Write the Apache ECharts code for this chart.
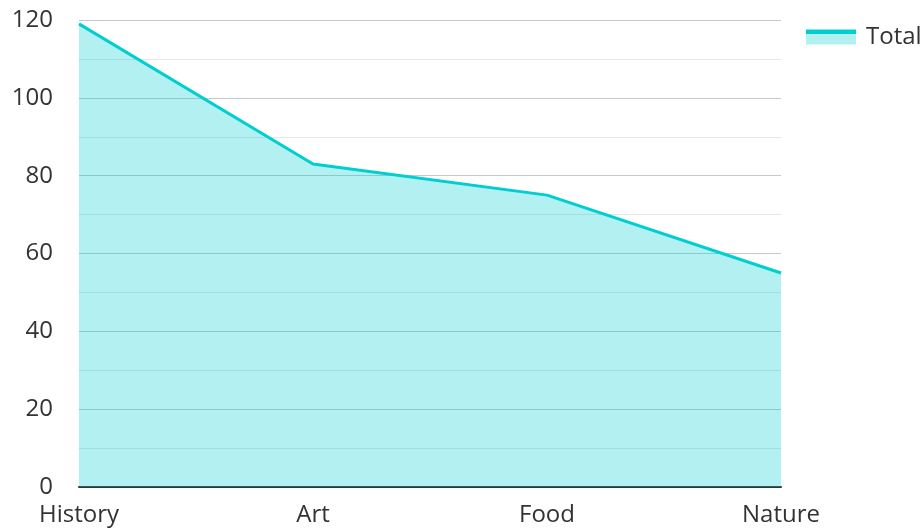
<!DOCTYPE html>
<html>
<head>
<meta charset="utf-8">
<style>
  html, body { margin: 0; padding: 0; background: #fff; }
  #chart { width: 922px; height: 528px; }
</style>
<script src="https://cdn.jsdelivr.net/npm/echarts@6/dist/echarts.min.js"></script>
</head>
<body>
<div id="chart"></div>
<script>
const categories = ['History', 'Art', 'Food', 'Nature']
const totals     = [119, 83, 75, 55]
const yTicks     = [0, 20, 40, 60, 80, 100, 120]

const COLOR_LINE = '#00ced1'
const COLOR_AREA = 'rgba(0,206,209,0.3)'
const FONT = "'Open Sans', 'Noto Sans', sans-serif"

const chart = echarts.init(document.getElementById('chart'))

chart.setOption({
  animation: false,
  textStyle: { fontFamily: FONT },
  grid: { left: 79, right: 141, top: 20, bottom: 41 },
  legend: {
    top: 25, left: 806, padding: 0,
    itemWidth: 50, itemHeight: 15, itemGap: 10,
    icon: 'rect',
    textStyle: { fontSize: 24, color: '#333', fontFamily: FONT, padding: [0, 0, 0, 5] },
    data: [{
      name: 'Total',
      itemStyle: {
        color: {
          type: 'linear', x: 0, y: 0, x2: 0, y2: 1,
          colorStops: [
            { offset: 0,    color: COLOR_LINE },
            { offset: 0.27, color: COLOR_LINE },
            { offset: 0.27, color: '#b2f0f1' },
            { offset: 1,    color: '#b2f0f1' },
          ],
        },
      },
    }],
  },
  xAxis: {
    type: 'category',
    data: categories,
    boundaryGap: false,
    axisLine: { lineStyle: { color: '#333', width: 2 } },
    axisTick: { show: false },
    axisLabel: { color: '#333', fontSize: 24, margin: 16 },
    splitLine: { show: false },
  },
  yAxis: {
    type: 'value',
    min: yTicks[0], max: yTicks[yTicks.length - 1], interval: 20,
    axisLine: { show: false },
    axisTick: { show: false },
    axisLabel: { color: '#333', fontSize: 24, margin: 26 },
    splitLine: { lineStyle: { color: '#c8c8c8', width: 1 } },
    minorTick: { show: false, splitNumber: 2 },
    minorSplitLine: { show: true, lineStyle: { color: '#e6e6e6', width: 1 } },
  },
  series: [{
    name: 'Total',
    type: 'line',
    data: totals,
    symbol: 'none',
    lineStyle: { color: COLOR_LINE, width: 3 },
    itemStyle: { color: COLOR_LINE },
    areaStyle: { color: COLOR_AREA, opacity: 1 },
  }],
})
</script>
</body>
</html>
